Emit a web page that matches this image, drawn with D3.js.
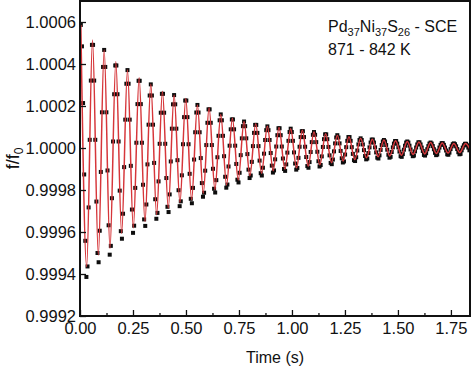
<!DOCTYPE html>
<html><head><meta charset="utf-8">
<script src="https://cdn.jsdelivr.net/npm/d3@7"></script>
<style>body{margin:0;background:#fff}svg{display:block}text{font-family:"Liberation Sans",Arial,sans-serif;fill:#111}</style>
</head><body><svg id="c" width="474" height="368"></svg>
<script>
// ---- data ----
const yTicks = [0.9992, 0.9994, 0.9996, 0.9998, 1.0000, 1.0002, 1.0004, 1.0006];
const xTicks = [0, 0.25, 0.5, 0.75, 1.0, 1.25, 1.5, 1.75];
const xMinorTicks = [0.125, 0.375, 0.625, 0.875, 1.125, 1.375, 1.625];
const firstPeakTime = 0.004;   // s
const period = 0.055;          // s, oscillation period
const sampleStep = 0.0052381;  // s, spacing of measured points

// fitted curve: maximum and minimum of each oscillation cycle
const fitPeaks = [1.000586,1.000514,1.000467,1.000411,1.000371,1.000335,1.000303,1.000270,1.000252,1.000236,
  1.000205,1.000192,1.000160,1.000142,1.000126,1.000115,1.000103,1.000098,1.000092,1.000084,
  1.000076,1.000068,1.000061,1.000054,1.000046,1.000042,1.000038,1.000034,1.000031,1.000028,
  1.000026,1.000024,1.000022,1.000021];
const fitTroughs = [0.999435,0.999490,0.999522,0.999594,0.999620,0.999650,0.999682,0.999714,0.999740,0.999754,
  0.999784,0.999802,0.999824,0.999848,0.999868,0.999880,0.999892,0.999900,0.999906,0.999914,
  0.999920,0.999930,0.999938,0.999945,0.999953,0.999958,0.999962,0.999966,0.999969,0.999972,
  0.999974,0.999976,0.999978,0.999979];

// measured f/f0 values
const measured = [
  1.000586,1.000484,1.000214,0.999874,0.999558,0.999386,0.999436,0.999717,1.000039,1.000321,1.000491,
  1.000491,1.000321,1.000039,0.999745,0.999500,0.999456,0.999606,0.999886,1.000170,1.000386,
  1.000467,1.000386,1.000170,0.999893,0.999632,0.999492,0.999534,0.999761,1.000031,1.000256,1.000393,
  1.000393,1.000256,1.000031,0.999797,0.999604,0.999568,0.999687,0.999909,1.000135,1.000306,
  1.000371,1.000306,1.000135,0.999915,0.999707,0.999596,0.999630,0.999810,1.000025,1.000209,1.000320,
  1.000320,1.000209,1.000025,0.999825,0.999660,0.999629,0.999731,0.999922,1.000111,1.000250,
  1.000303,1.000250,1.000111,0.999929,0.999756,0.999663,0.999691,0.999841,1.000020,1.000168,1.000258,
  1.000258,1.000168,1.000020,0.999857,0.999720,0.999695,0.999779,0.999936,1.000092,1.000208,
  1.000252,1.000208,1.000092,0.999942,0.999799,0.999723,0.999746,0.999870,1.000018,1.000147,1.000226,
  1.000226,1.000147,1.000018,0.999877,0.999758,0.999737,0.999810,0.999945,1.000075,1.000169,
  1.000205,1.000169,1.000075,0.999952,0.999833,0.999768,0.999787,0.999892,1.000014,1.000120,1.000184,
  1.000184,1.000120,1.000014,0.999901,0.999806,0.999788,0.999847,0.999956,1.000058,1.000132,
  1.000160,1.000132,1.000058,0.999961,0.999863,0.999811,0.999826,0.999912,1.000011,1.000089,1.000136,
  1.000136,1.000089,1.000011,0.999924,0.999849,0.999836,0.999882,0.999966,1.000046,1.000104,
  1.000126,1.000104,1.000046,0.999971,0.999897,0.999857,0.999869,0.999934,1.000009,1.000072,1.000110,
  1.000110,1.000072,1.000009,0.999940,0.999880,0.999869,0.999906,0.999973,1.000038,1.000085,
  1.000103,1.000085,1.000038,0.999976,0.999916,0.999883,0.999893,0.999946,1.000007,1.000061,1.000094,
  1.000094,1.000061,1.000007,0.999950,0.999900,0.999891,0.999922,0.999978,1.000034,1.000076,
  1.000092,1.000076,1.000034,0.999979,0.999926,0.999897,0.999905,0.999953,1.000006,1.000052,1.000080,
  1.000080,1.000052,1.000006,0.999957,0.999914,0.999906,0.999933,0.999981,1.000028,1.000063,
  1.000076,1.000063,1.000028,0.999982,0.999937,0.999912,0.999919,0.999960,1.000005,1.000042,1.000065,
  1.000065,1.000042,1.000005,0.999965,0.999929,0.999923,0.999945,0.999984,1.000022,1.000050,
  1.000061,1.000050,1.000022,0.999986,0.999951,0.999931,0.999936,0.999969,1.000004,1.000034,1.000052,
  1.000052,1.000034,1.000004,0.999972,0.999942,0.999938,0.999956,0.999988,1.000017,1.000038,
  1.000046,1.000038,1.000017,0.999990,0.999962,0.999946,0.999950,0.999976,1.000003,1.000026,1.000040,
  1.000040,1.000026,1.000003,0.999979,0.999954,0.999950,0.999965,0.999991,1.000014,1.000031,
  1.000038,1.000031,1.000014,0.999992,0.999968,0.999954,0.999958,0.999981,1.000003,1.000021,1.000033,
  1.000033,1.000021,1.000003,0.999983,0.999961,0.999958,0.999971,0.999992,1.000011,1.000026,
  1.000031,1.000026,1.000011,0.999993,0.999973,0.999961,0.999964,0.999984,1.000002,1.000017,1.000027,
  1.000027,1.000017,1.000002,0.999986,0.999967,0.999964,0.999975,0.999994,1.000009,1.000021,
  1.000026,1.000021,1.000009,0.999994,0.999977,0.999966,0.999969,0.999987,1.000002,1.000015,1.000023,
  1.000023,1.000015,1.000002,0.999988,0.999970,0.999968,0.999978,0.999995,1.000008,1.000018,
  1.000022,1.000018,1.000008,0.999995,0.999980,0.999970,0.999972,0.999989,1.000002,1.000013,1.000020,
  1.000020,1.000013,1.000002,0.999989
];

// ---- layout ----
const L = 80, R = 470, T = 1, B = 316;
const svg = d3.select("#c");
const x = d3.scaleLinear().domain([0, 1.84]).range([L, R]);
const y = d3.scaleLinear().domain([0.9992, 1.0007]).range([B, T]);

svg.append("defs").append("clipPath").attr("id", "clip")
  .append("rect").attr("x", L).attr("y", T).attr("width", R - L).attr("height", B - T);

const plot = svg.append("g").attr("clip-path", "url(#clip)");

// measured points
const pts = measured.map((v, i) => ({t: firstPeakTime + i * sampleStep, v}));
const sz = 4;
plot.append("g").selectAll("rect").data(pts).join("rect")
  .attr("x", d => x(d.t) - sz / 2).attr("y", d => y(d.v) - sz / 2)
  .attr("width", sz).attr("height", sz).attr("fill", "#0d0d0d");

// fit curve through the extremes of each cycle
const fit = [];
fitPeaks.forEach((p, j) => {
  fit.push({t: firstPeakTime + j * period, v: p});
  fit.push({t: firstPeakTime + j * period + period / 2, v: fitTroughs[j]});
});
plot.append("path").datum(fit)
  .attr("d", d3.line().x(d => x(d.t)).y(d => y(d.v)).curve(d3.curveMonotoneX))
  .attr("fill", "none").attr("stroke", "#d6363a").attr("stroke-width", 1.5);

// axes
const fs = "16px";
svg.append("g").attr("transform", `translate(0,${B})`)
  .call(d3.axisBottom(x).tickValues(xTicks).tickFormat(d3.format(".2f")).tickSizeInner(-6).tickSizeOuter(0).tickPadding(6));
svg.append("g").attr("transform", `translate(0,${B})`)
  .call(d3.axisBottom(x).tickValues(xMinorTicks).tickFormat("").tickSizeInner(-3).tickSizeOuter(0));
svg.append("g").attr("transform", `translate(${L},0)`)
  .call(d3.axisLeft(y).tickValues(yTicks).tickFormat(d3.format(".4f")).tickSizeInner(-6).tickSizeOuter(0).tickPadding(4));
svg.selectAll(".tick text").attr("font-size", "16.5px").attr("fill", "#111")
  .attr("font-family", '"Liberation Sans",Arial,sans-serif');
svg.selectAll(".tick line").attr("stroke", "#111").attr("stroke-width", 1.3);
svg.selectAll(".domain").attr("stroke", "none");

// frame
svg.append("rect").attr("x", L).attr("y", T).attr("width", R - L).attr("height", B - T)
  .attr("fill", "none").attr("stroke", "#111").attr("stroke-width", 2);

// axis titles
svg.append("text").attr("x", (L + R) / 2).attr("y", 363).attr("text-anchor", "middle")
  .attr("font-size", fs).text("Time (s)");
const yl = svg.append("text").attr("transform", `translate(19,${(T + B) / 2}) rotate(-90)`)
  .attr("text-anchor", "middle").attr("font-size", "18px");
yl.append("tspan").text("f/f");
yl.append("tspan").attr("font-size", "12px").attr("dy", 4).text("0");

// annotation
const a1 = svg.append("text").attr("x", 328).attr("y", 32).attr("font-size", fs);
[["Pd", false], ["37", true], ["Ni", false], ["37", true], ["S", false], ["26", true], [" - SCE", false]]
  .forEach(([s, sub], i, arr) => {
    const prevSub = i > 0 && arr[i - 1][1];
    a1.append("tspan").attr("font-size", sub ? "11px" : fs)
      .attr("dy", sub ? 4 : (prevSub ? -4 : 0)).text(s);
  });
svg.append("text").attr("x", 328).attr("y", 55).attr("font-size", fs).text("871 - 842 K");
</script></body></html>
